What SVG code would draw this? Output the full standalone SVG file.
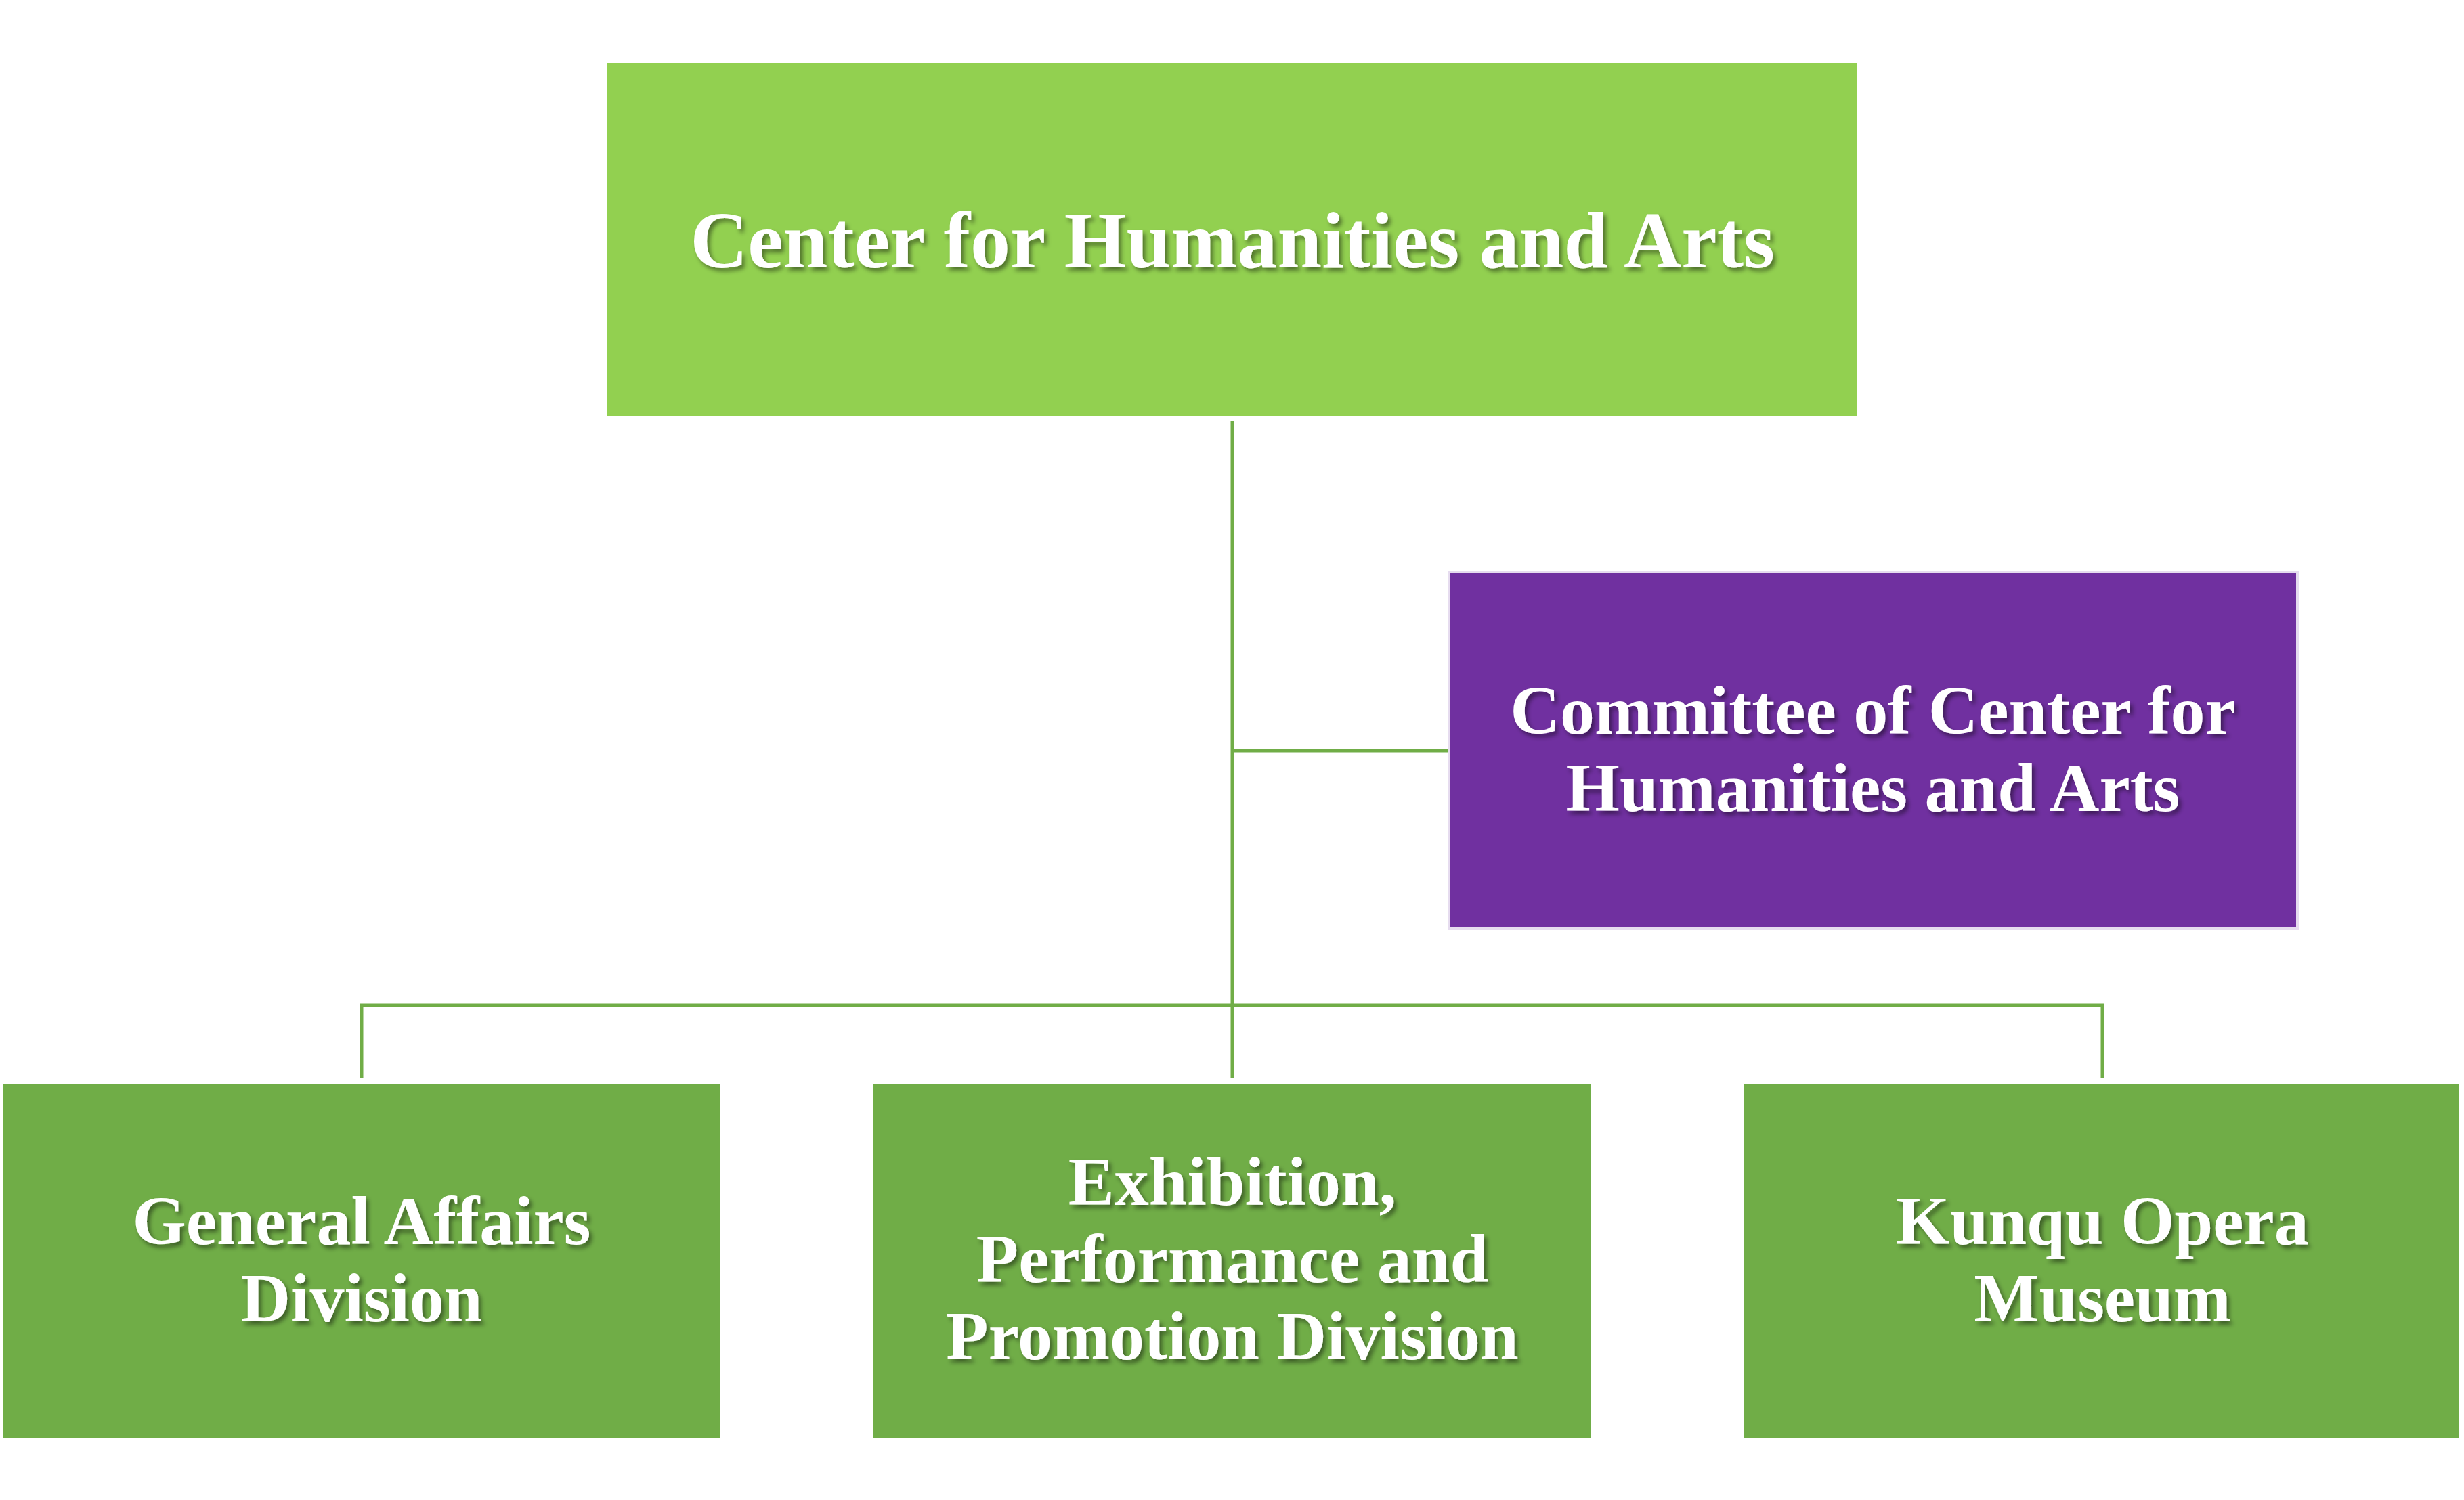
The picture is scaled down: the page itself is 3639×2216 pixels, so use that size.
<svg xmlns="http://www.w3.org/2000/svg" width="3639" height="2216" viewBox="0 0 3639 2216">
<defs><filter id="sh" x="-5%" y="-20%" width="110%" height="140%"><feDropShadow dx="4" dy="5" stdDeviation="3" flood-color="#000" flood-opacity="0.45"/></filter></defs>
<style>
.t{font-family:"Liberation Serif",serif;font-weight:bold;fill:#fff;text-anchor:middle;filter:url(#sh)}
.c{stroke:#70ad47;stroke-width:5;fill:none}
</style>
<rect width="3639" height="2216" fill="#fff"/>
<g id="connectors">
<path class="c" d="M1820 622V1592M1820 1109H2140M534 1592V1485H3105V1592"/>
</g>
<g id="center"><rect x="896" y="93" width="1847" height="522" fill="#92d050"/><text class="t" x="1820" y="395" font-size="118">Center for Humanities and Arts</text></g>
<g id="committee"><rect x="2140" y="845" width="1253" height="527" fill="#7030a0" stroke="#e6dcef" stroke-width="4"/><text class="t" x="2766" y="1084" font-size="102">Committee of Center for</text><text class="t" x="2766" y="1198" font-size="102">Humanities and Arts</text></g>
<g id="general"><rect x="5" y="1601" width="1058" height="523" fill="#70ad47"/><text class="t" x="534" y="1838" font-size="102">General Affairs</text><text class="t" x="534" y="1952" font-size="102">Division</text></g>
<g id="exhibition"><rect x="1290" y="1601" width="1059" height="523" fill="#70ad47"/><text class="t" x="1820" y="1780" font-size="102">Exhibition,</text><text class="t" x="1820" y="1894" font-size="102">Performance and</text><text class="t" x="1820" y="2008" font-size="102">Promotion Division</text></g>
<g id="kunqu"><rect x="2576" y="1601" width="1056" height="523" fill="#70ad47"/><text class="t" x="3105" y="1838" font-size="102">Kunqu Opera</text><text class="t" x="3105" y="1952" font-size="102">Museum</text></g>
</svg>
